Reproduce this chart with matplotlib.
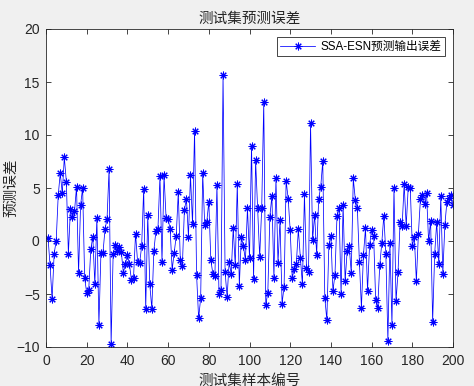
import matplotlib
matplotlib.use("Agg")
import matplotlib.pyplot as plt
import numpy as np

plt.rcParams['font.family'] = ['Liberation Sans', 'Noto Sans CJK SC', 'DejaVu Sans']

errors = [
    0.3, -2.3, -5.5, -1.2, 0.0, 4.3, 6.4, 4.5, 7.9, 5.6,
    -1.2, 3.0, 2.3, 2.8, 5.1, -3.0, 3.4, 5.0, -3.5, -4.9,
    -4.6, -0.8, 0.4, -4.1, 2.2, -7.9, -1.1, -1.1, 1.1, 2.1,
    6.8, -9.7, -1.2, -0.4, -0.9, -0.6, -1.0, -3.0, -2.2, -1.3,
    -2.2, -3.7, -3.5, 0.7, -1.95, -2.1, -0.5, 4.9, -6.4, 2.45,
    -4.1, -6.4, -0.9, 0.9, 1.1, 6.1, -1.95, 6.2, 2.2, 2.1,
    1.1, -2.7, -1.1, 0.5, 4.6, -1.8, -2.4, 2.9, 4.0, 0.4,
    6.2, 1.6, 10.4, -3.2, -7.3, -5.4, 6.4, 1.5, 1.8, 3.7,
    -1.8, -3.1, -3.3, 5.3, -5.0, -4.6, 15.7, -2.9, -5.3, -1.95,
    -3.1, 1.2, -2.3, 5.4, -4.2, 0.4, -0.5, -1.8, 3.1, -1.6,
    9.0, -3.6, 7.6, 3.1, -1.5, 3.1, 13.1, -6.0, -4.9, 2.3,
    4.25, -3.5, 5.9, -2.1, 2.0, -5.9, -4.3, 5.7, 4.0, 1.0,
    -3.5, -2.6, -2.2, 1.1, -1.6, -4.1, 4.4, -2.5, -2.9, 11.1,
    0.1, 2.5, -1.3, 4.0, 5.1, 7.55, -5.35, -7.45, -0.4, 0.5,
    -4.7, -3.2, 2.4, 3.1, -5.0, 3.4, -3.8, -0.9, -0.5, -3.0,
    5.9, 3.9, 3.1, -1.95, -6.3, -1.3, 1.2, -4.7, -0.4, 1.0,
    0.5, -5.6, -6.3, -2.3, -0.2, 2.4, -1.2, -9.4, -0.2, -7.9,
    5.0, -5.7, -2.9, 1.8, 1.4, 5.35, 1.4, 5.1, 5.0, -0.5,
    0.4, -3.8, 0.7, 4.0, 4.3, 3.5, 4.5, 0.0, 1.9, -7.6,
    -1.2, 1.8, -2.2, 4.2, -3.1, 1.5, 3.7, 4.1, 4.3, 3.4,
]
samples = np.arange(1, len(errors) + 1)

x_ticks = list(range(0, 201, 20))
y_ticks = list(range(-10, 21, 5))

title_text = '测试集预测误差'
xlabel_text = '测试集样本编号'
ylabel_text = '预测误差'
legend_text = 'SSA-ESN预测输出误差'

fig = plt.figure(figsize=(4.74, 3.86), dpi=100, facecolor='#F0F0F0')
ax = fig.add_axes([46/474, 1 - 347/386, (453 - 46)/474, (347 - 29)/386])
ax.set_facecolor('white')

ax.plot(samples, errors, color='#0000FF', linewidth=0.55,
        marker=(8, 2, 0), markersize=5.5, markeredgewidth=0.75,
        label=legend_text)

ax.set_xlim(0, 200)
ax.set_ylim(-10, 20)
ax.set_xticks(x_ticks)
ax.set_yticks(y_ticks)
ax.tick_params(direction='in', top=True, right=True, length=3.5, width=0.6,
               labelsize=10, colors='#262626')
ax.tick_params(axis='x', pad=5)
ax.tick_params(axis='y', pad=4.5)
for s in ax.spines.values():
    s.set_color('#262626')
    s.set_linewidth(0.6)

ax.set_title(title_text, fontsize=10.5, color='#262626', pad=4,
             family=['Noto Sans CJK SC'])
ax.set_xlabel(xlabel_text, fontsize=10.5, color='#262626', labelpad=4,
              family=['Noto Sans CJK SC'])
ax.set_ylabel(ylabel_text, fontsize=10.5, color='#262626',
              family=['Noto Sans CJK SC'])
ax.yaxis.set_label_coords(-0.068, 0.5)

leg = ax.legend(loc='upper right', fancybox=False, framealpha=1,
                edgecolor='#262626', fontsize=8.4, borderaxespad=0.7,
                handlelength=3.0, borderpad=0.3, handletextpad=0.45)
leg.get_frame().set_linewidth(0.6)

fig.savefig('out.png', dpi=100, facecolor=fig.get_facecolor())
